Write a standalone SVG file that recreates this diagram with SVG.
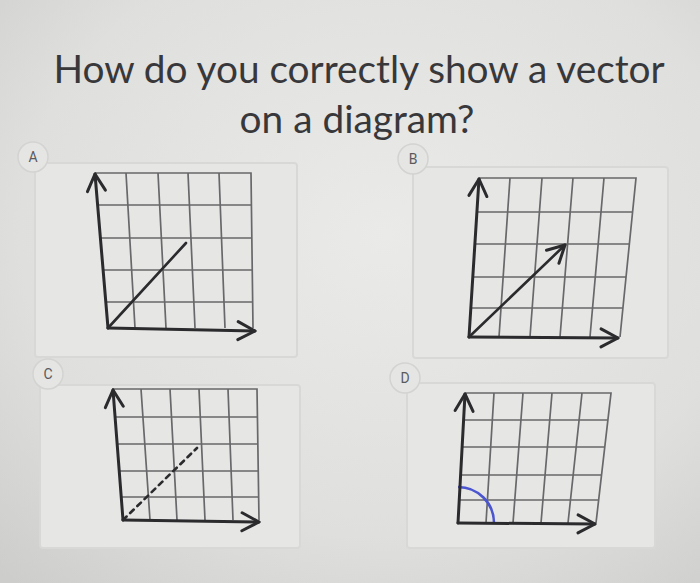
<svg xmlns="http://www.w3.org/2000/svg" width="700" height="583" viewBox="0 0 700 583">
<defs>
<radialGradient id="bg" cx="0.55" cy="0.4" r="0.8">
<stop offset="0" stop-color="#eaeae9"/>
<stop offset="0.65" stop-color="#dfdfde"/>
<stop offset="1" stop-color="#cdcdcc"/>
</radialGradient>
<marker id="arrow" viewBox="-20 -12 24 24" refX="0" refY="0" markerWidth="24" markerHeight="24" markerUnits="userSpaceOnUse" orient="auto">
<path d="M-17,-9 L0,0 L-17,9" fill="none" stroke="#2b2b2e" stroke-width="3" stroke-linecap="round" stroke-linejoin="round"/>
</marker>
<style>
.title{font-family:Lato,"Open Sans","Liberation Sans",sans-serif;font-size:38.8px;fill:#38383b;text-anchor:middle}
.card{fill:#e6e6e5;stroke:#d8d8d7;stroke-width:2}
.badge{fill:#e5e5e4;stroke:#d3d3d2;stroke-width:1.5}
.lab{font-family:Roboto,"Liberation Sans",sans-serif;font-size:14px;fill:#5a5a5c;text-anchor:middle}
.grid{fill:none;stroke:#68686a;stroke-width:1.7}
.axis{fill:none;stroke:#2b2b2e;stroke-width:3;stroke-linecap:round}
.vec{fill:none;stroke:#2b2b2e;stroke-width:2.6;stroke-linecap:round}
</style>
</defs>
<rect width="700" height="583" fill="url(#bg)"/>
<text class="title" x="359" y="83">How do you correctly show a vector</text>
<text class="title" x="357" y="133">on a diagram?</text>

<g id="optionA">
<rect class="card" x="35" y="163" width="262" height="194" rx="3"/>
<circle class="badge" cx="33" cy="157" r="15"/>
<text class="lab" x="33" y="162">A</text>
<path class="grid" d="M95,173 L251,173 L253,328 M126,173 L135,328 M158,173 L166,328 M188,173 L195,328 M219,173 L225,328 M98,205 L251.5,205 M100.5,238 L252,238 M103,270 L252.5,270 M106,302 L253,302"/>
<path class="axis" d="M108,328 L95,174" marker-end="url(#arrow)"/>
<path class="axis" d="M108,328 L255,331" marker-end="url(#arrow)"/>
<path class="vec" d="M108,328 L186,243"/>
</g>

<g id="optionB">
<rect class="card" x="413" y="167" width="255" height="191" rx="3"/>
<circle class="badge" cx="413" cy="159" r="15"/>
<text class="lab" x="413" y="164">B</text>
<path class="grid" d="M479,178 L636,178 L620,337 M510,178 L499,337 M542,178 L530,337 M573,178 L560,337 M604,178 L590,337 M476.9,212 L632.6,212 M474.8,244 L629.4,244 M472.8,277 L626,277 M470.8,308 L622.9,308"/>
<path class="axis" d="M469,337 L479,179" marker-end="url(#arrow)"/>
<path class="axis" d="M469,337 L618,338" marker-end="url(#arrow)"/>
<path class="vec" d="M469,337 L565,245" marker-end="url(#arrow)"/>
</g>

<g id="optionC">
<rect class="card" x="40" y="385" width="260" height="163" rx="3"/>
<circle class="badge" cx="48" cy="374" r="15"/>
<text class="lab" x="48" y="379">C</text>
<path class="grid" d="M112,389 L257,389 L259,520 M141,389 L150,520 M170,389 L177,520 M199,389 L205,520 M228,389 L233,520 M114.4,417 L257.4,417 M116.6,444 L257.8,444 M118.8,471 L258.2,471 M121.1,497 L258.6,497"/>
<path class="axis" d="M123,520 L113,390" marker-end="url(#arrow)"/>
<path class="axis" d="M123,520 L259,522" marker-end="url(#arrow)"/>
<path class="vec" d="M123,520 L197,448" stroke-dasharray="5 5" stroke-linecap="butt"/>
</g>

<g id="optionD">
<rect class="card" x="407" y="383" width="248" height="165" rx="3"/>
<circle class="badge" cx="405" cy="378" r="15"/>
<text class="lab" x="405" y="383">D</text>
<path class="grid" d="M465,393 L611,393 L596,523 M494,393 L486,523 M523,393 L513,523 M552,393 L541,523 M582,393 L568,523 M463.5,420 L607.9,420 M462,447 L604.7,447 M460.6,475 L601.5,475 M459.2,500 L598.7,500"/>
<path d="M458,487 A36,36 0 0 1 494,523" fill="none" stroke="#4b55cf" stroke-width="2.6"/>
<path class="axis" d="M458,523 L465,394" marker-end="url(#arrow)"/>
<path class="axis" d="M458,523 L595,524" marker-end="url(#arrow)"/>
</g>
</svg>
